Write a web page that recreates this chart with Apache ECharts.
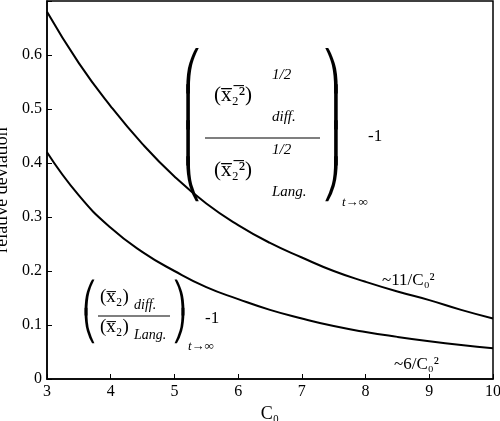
<!DOCTYPE html>
<html>
<head>
<meta charset="utf-8">
<script src="https://cdn.jsdelivr.net/npm/echarts@6/dist/echarts.min.js"></script>
<style>html,body{margin:0;padding:0;background:#fff}#chart{width:500px;height:421px}</style>
</head>
<body>
<div id="chart"></div>
<script>
// values
var c0 = [3, 3.5, 4, 4.5, 5, 5.5, 6, 6.5, 7, 7.5, 8, 8.5, 9, 9.5, 10];
var upper = [0.68, 0.585, 0.505, 0.435, 0.375, 0.325, 0.285, 0.252, 0.225, 0.2, 0.18, 0.162, 0.146, 0.128, 0.112];
var lower = [0.42, 0.34, 0.28, 0.235, 0.2, 0.17, 0.148, 0.128, 0.112, 0.098, 0.087, 0.078, 0.07, 0.063, 0.057];
var yTicks = [0, 0.1, 0.2, 0.3, 0.4, 0.5, 0.6];

var font = 'Liberation Serif';
var chart = echarts.init(document.getElementById('chart'));

function pts(ys) {
    return c0.map(function (x, i) { return [x, ys[i]]; });
}

var option = {
    animation: false,
    textStyle: { fontFamily: font },
    grid: { left: 47, right: 7, top: 1, bottom: 42, containLabel: false, outerBoundsMode: 'none' },
    xAxis: {
        type: 'value', min: 3, max: 10, interval: 1,
        name: 'C\u2080', nameLocation: 'middle', nameGap: 24,
        nameTextStyle: { fontFamily: font, fontSize: 18, color: '#000' },
        axisLine: { lineStyle: { color: '#000', width: 1.5 } },
        axisTick: { inside: true, length: 5, lineStyle: { color: '#000' } },
        axisLabel: { color: '#000', fontFamily: font, fontSize: 16, margin: 5 },
        splitLine: { show: false }
    },
    yAxis: {
        type: 'value', min: 0, max: 0.7, interval: 0.1,
        name: 'relative deviation', nameLocation: 'middle', nameGap: 34,
        nameTextStyle: { fontFamily: font, fontSize: 18, color: '#000' },
        axisLine: { lineStyle: { color: '#000', width: 1.5 } },
        axisTick: { inside: true, length: 5, lineStyle: { color: '#000' } },
        axisLabel: {
            color: '#000', fontFamily: font, fontSize: 16, margin: 5,
            formatter: function (v) { return yTicks.indexOf(+v.toFixed(1)) >= 0 && v < 0.65 ? String(+v.toFixed(1)) : ''; }
        },
        splitLine: { show: false }
    },
    series: [
        { type: 'line', data: pts(upper), smooth: true, showSymbol: false, lineStyle: { color: '#000', width: 2 } },
        { type: 'line', data: pts(lower), smooth: true, showSymbol: false, lineStyle: { color: '#000', width: 2 } }
    ],
    graphic: [
        // frame top/right
        { type: 'rect', shape: { x: 47, y: 1, width: 446, height: 378 }, style: { fill: 'none', stroke: '#000', lineWidth: 1.5 }, silent: true },
        { type: 'text', left: 382, top: 272, style: { text: '~11/C\u2080\u00b2', font: '17px ' + font, fill: '#000' } },
        { type: 'text', left: 394, top: 356, style: { text: '~6/C\u2080\u00b2', font: '17px ' + font, fill: '#000' } },
        // upper formula
        { type: 'text', left: 183, top: 55, style: { text: '\u239b\n\u239c\n\u239c\n\u239d', font: '38px ' + font, fill: '#000', lineHeight: 36 } },
        { type: 'text', left: 214, top: 85, style: { text: '(x\u0305\u0305\u2082\u0305\u00b2)', font: '21px ' + font, fill: '#000' } },
        { type: 'text', left: 272, top: 68, style: { text: '1/2', font: 'italic 15px ' + font, fill: '#000' } },
        { type: 'text', left: 272, top: 110, style: { text: 'diff.', font: 'italic 15px ' + font, fill: '#000' } },
        { type: 'line', shape: { x1: 205, y1: 138, x2: 320, y2: 138 }, style: { stroke: '#000', lineWidth: 1.2 } },
        { type: 'text', left: 214, top: 160, style: { text: '(x\u0305\u0305\u2082\u0305\u00b2)', font: '21px ' + font, fill: '#000' } },
        { type: 'text', left: 272, top: 143, style: { text: '1/2', font: 'italic 15px ' + font, fill: '#000' } },
        { type: 'text', left: 272, top: 185, style: { text: 'Lang.', font: 'italic 15px ' + font, fill: '#000' } },
        { type: 'text', left: 322, top: 55, style: { text: '\u239e\n\u239f\n\u239f\n\u23a0', font: '38px ' + font, fill: '#000', lineHeight: 36 } },
        { type: 'text', left: 368, top: 128, style: { text: '-1', font: '17px ' + font, fill: '#000' } },
        { type: 'text', left: 342, top: 196, style: { text: 't\u2192\u221e', font: 'italic 13px ' + font, fill: '#000' } },
        // lower formula
        { type: 'text', left: 82, top: 285, style: { text: '\u239b\n\u239d', font: '30px ' + font, fill: '#000', lineHeight: 28 } },
        { type: 'text', left: 100, top: 288, style: { text: '(x\u0305\u2082)', font: '19px ' + font, fill: '#000' } },
        { type: 'text', left: 134, top: 298, style: { text: 'diff.', font: 'italic 14px ' + font, fill: '#000' } },
        { type: 'line', shape: { x1: 98, y1: 316, x2: 170, y2: 316 }, style: { stroke: '#000', lineWidth: 1.2 } },
        { type: 'text', left: 100, top: 318, style: { text: '(x\u0305\u2082)', font: '19px ' + font, fill: '#000' } },
        { type: 'text', left: 134, top: 328, style: { text: 'Lang.', font: 'italic 14px ' + font, fill: '#000' } },
        { type: 'text', left: 172, top: 285, style: { text: '\u239e\n\u23a0', font: '30px ' + font, fill: '#000', lineHeight: 28 } },
        { type: 'text', left: 205, top: 310, style: { text: '-1', font: '17px ' + font, fill: '#000' } },
        { type: 'text', left: 188, top: 340, style: { text: 't\u2192\u221e', font: 'italic 13px ' + font, fill: '#000' } }
    ]
};
chart.setOption(option);
</script>
</body>
</html>
